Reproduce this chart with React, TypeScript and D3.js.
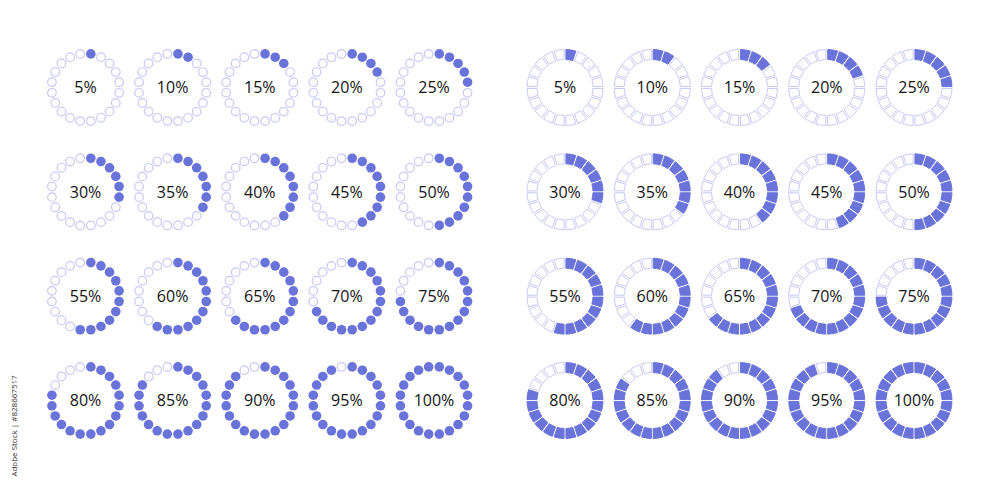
import React from "react";
import * as d3 from "d3";

const percents = [5, 10, 15, 20, 25, 30, 35, 40, 45, 50, 55, 60, 65, 70, 75, 80, 85, 90, 95, 100];
const stepsPerRing = 20;
const columns = [0, 1, 2, 3, 4];
const rows = [0, 1, 2, 3];
const sideLabel = "Adobe Stock | #828667517";

const W = 1000;
const H = 489;
const FILL = "#6a73da";
const EMPTY = "#c6c9f6";

const xLeft = d3.scaleLinear().domain([0, 4]).range([85.5, 434]);
const xRight = d3.scaleLinear().domain([0, 4]).range([565, 914]);
const yRow = d3.scaleLinear().domain([0, 3]).range([87.5, 400.5]);
const angle = d3.scaleLinear().domain([0, stepsPerRing]).range([0, 2 * Math.PI]);

const segArc = d3
  .arc<{ i: number }>()
  .innerRadius(28)
  .outerRadius(38)
  .startAngle((d) => angle(d.i))
  .endAngle((d) => angle(d.i + 1))
  .padAngle(0.05)
  .padRadius(38);

const labelStyle = {
  fontFamily: "'Open Sans', sans-serif",
  fontSize: 16,
  fill: "#141414",
};

function DotRing({ cx, cy, p }: { cx: number; cy: number; p: number }) {
  const filled = Math.round((p / 100) * stepsPerRing);
  const R = 34;
  return (
    <g transform={`translate(${cx},${cy})`}>
      {d3.range(stepsPerRing).map((i) => {
        const a = angle(i + 0.5);
        const x = R * Math.sin(a);
        const y = -R * Math.cos(a);
        return i < filled ? (
          <circle key={i} cx={x} cy={y} r={4.8} fill={FILL} />
        ) : (
          <circle key={i} cx={x} cy={y} r={4.3} fill="#fff" stroke={EMPTY} strokeWidth={1.2} />
        );
      })}
      <text x={0} y={0} dy="0.36em" textAnchor="middle" {...labelStyle}>
        {p}%
      </text>
    </g>
  );
}

function SegRing({ cx, cy, p }: { cx: number; cy: number; p: number }) {
  const filled = Math.round((p / 100) * stepsPerRing);
  return (
    <g transform={`translate(${cx},${cy})`}>
      {d3.range(stepsPerRing).map((i) => (
        <path
          key={i}
          d={segArc({ i }) || ""}
          fill={i < filled ? FILL : "#fff"}
          stroke={i < filled ? FILL : EMPTY}
          strokeWidth={1}
        />
      ))}
      <text x={0} y={0} dy="0.36em" textAnchor="middle" {...labelStyle}>
        {p}%
      </text>
    </g>
  );
}

export default function App() {
  return (
    <svg width={W} height={H} style={{ position: "absolute", left: 0, top: 0, background: "#fff" }}>
      <rect width={W} height={H} fill="#fff" />
      {rows.map((r) =>
        columns.map((c) => {
          const p = percents[r * columns.length + c];
          return <DotRing key={`d${r}-${c}`} cx={xLeft(c)} cy={yRow(r)} p={p} />;
        })
      )}
      {rows.map((r) =>
        columns.map((c) => {
          const p = percents[r * columns.length + c];
          return <SegRing key={`s${r}-${c}`} cx={xRight(c)} cy={yRow(r)} p={p} />;
        })
      )}
      <text
        transform={`translate(17,426) rotate(-90)`}
        textAnchor="middle"
        fontFamily="'Open Sans', sans-serif"
        fontSize={8}
        fill="#333"
      >
        {sideLabel}
      </text>
    </svg>
  );
}
